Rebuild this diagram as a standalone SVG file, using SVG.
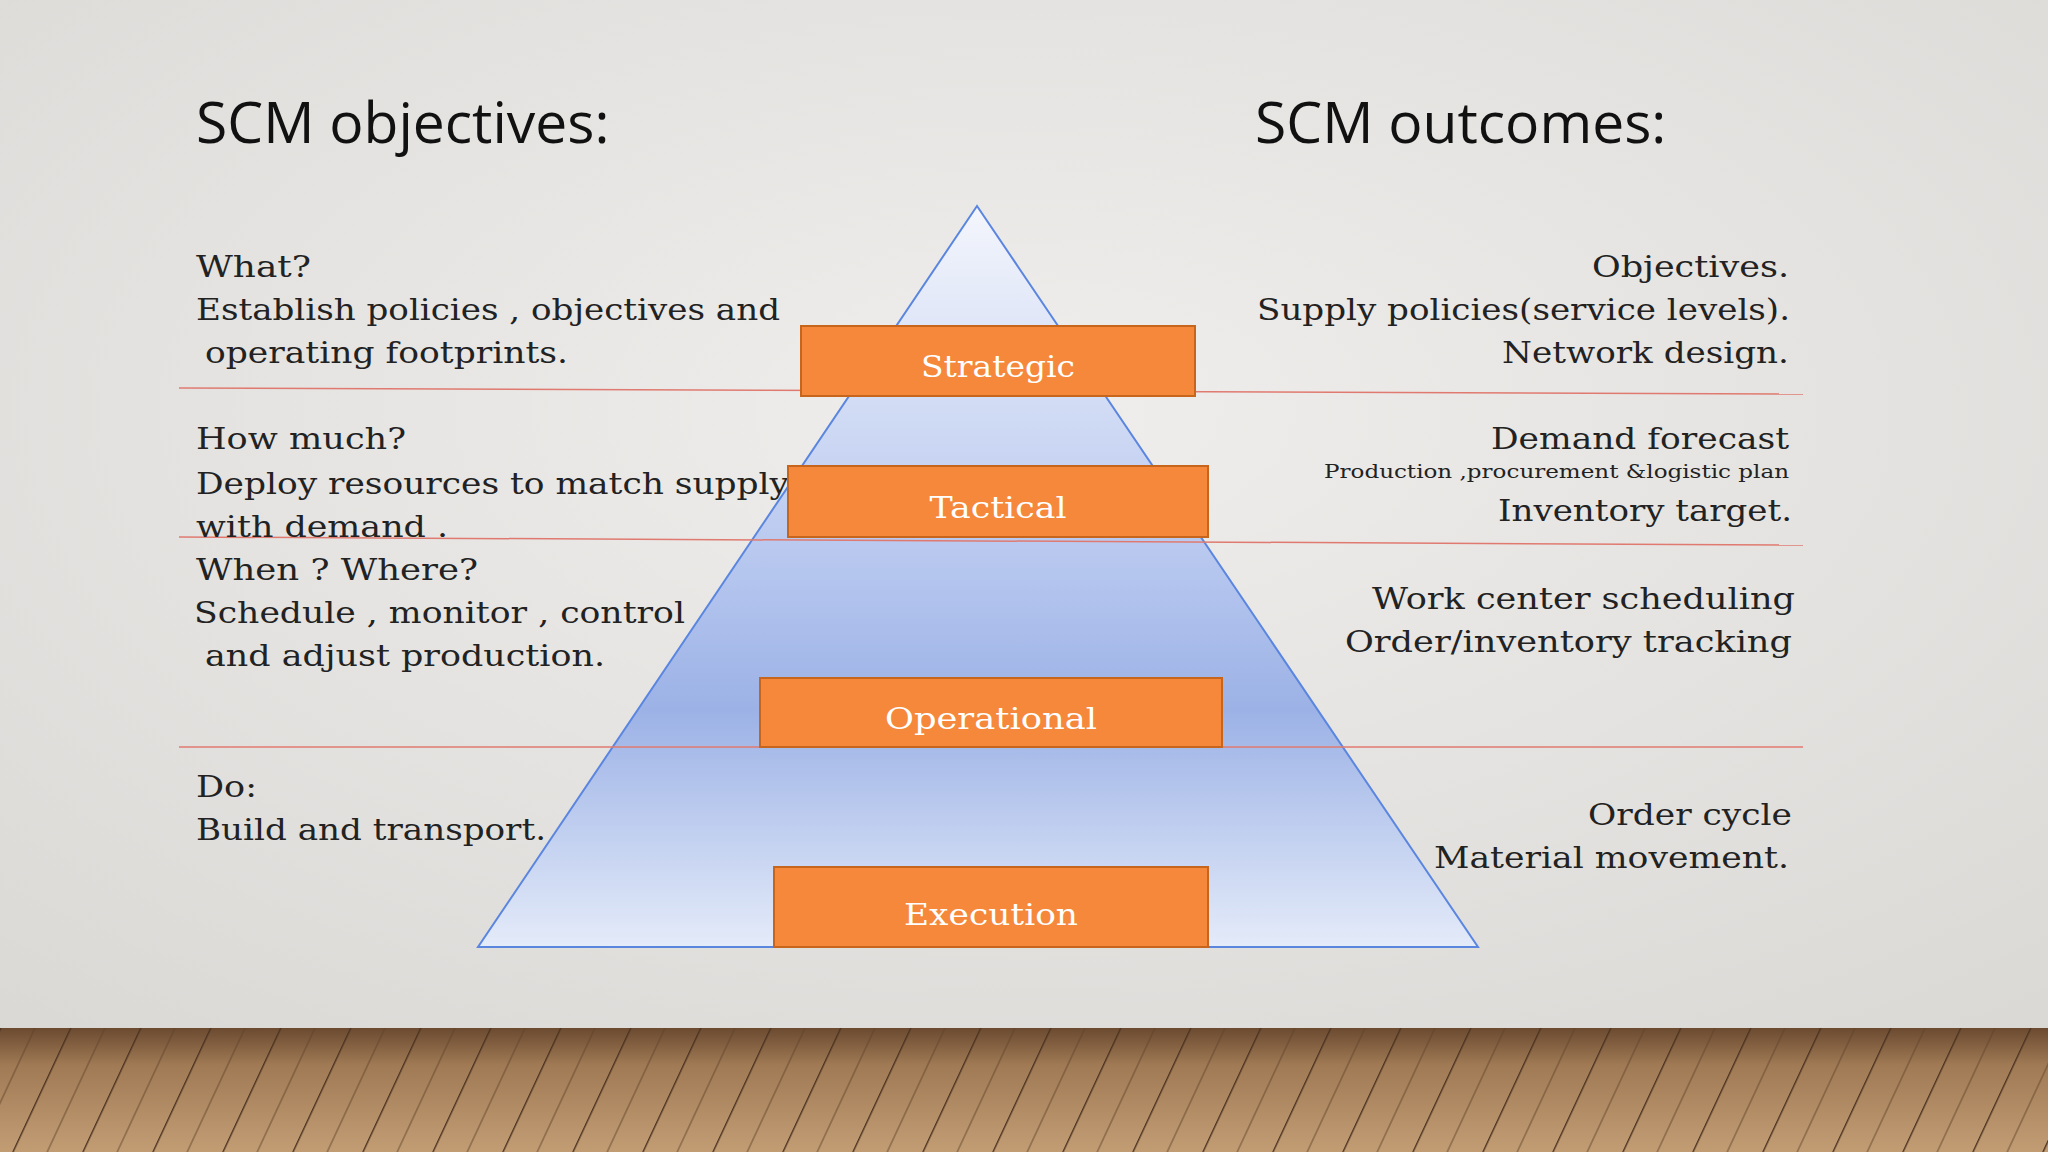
<svg xmlns="http://www.w3.org/2000/svg" width="2048" height="1152" viewBox="0 0 2048 1152">
<defs>
<radialGradient id="bg" cx="0.5" cy="0.4" r="0.8">
<stop offset="0" stop-color="#efeeec"/><stop offset="1" stop-color="#d9d8d5"/>
</radialGradient>
<linearGradient id="pyr" x1="0" y1="206" x2="0" y2="947" gradientUnits="userSpaceOnUse">
<stop offset="0" stop-color="#f4f6fc"/><stop offset="0.5" stop-color="#b4c5ee"/><stop offset="0.68" stop-color="#9cb2e6"/><stop offset="1" stop-color="#e4ebf9"/>
</linearGradient>
<linearGradient id="floor" x1="0" y1="0" x2="0" y2="1">
<stop offset="0" stop-color="#6b4a30"/><stop offset="0.3" stop-color="#a07a55"/><stop offset="1" stop-color="#c29d74"/>
</linearGradient>
<pattern id="planks" width="70" height="124" patternUnits="userSpaceOnUse" patternTransform="translate(0,1028) skewX(-25)">
<rect width="70" height="124" fill="url(#floor)"/>
<line x1="0" y1="0" x2="0" y2="124" stroke="#4a3220" stroke-width="3"/>
<line x1="35" y1="0" x2="35" y2="124" stroke="#5e4129" stroke-width="1.5" opacity="0.6"/>
</pattern>
</defs>
<style>
.t{font-family:"Open Sans","Liberation Sans",sans-serif;font-size:57px;fill:#111}
.s{font-family:"DejaVu Serif","Liberation Serif",serif;font-size:29px;fill:#222}
.r{text-anchor:end}
.b{fill:#f5883a;stroke:#c8651c;stroke-width:2}
.bt{font-family:"DejaVu Serif","Liberation Serif",serif;font-size:29px;fill:#fff;text-anchor:middle}
.ln{stroke:#e07a70;stroke-width:1.5}
</style>
<rect width="2048" height="1028" fill="url(#bg)"/>
<rect y="1028" width="2048" height="124" fill="url(#planks)"/>
<text class="t" x="196" y="143">SCM objectives:</text>
<text class="t" x="1255" y="143">SCM outcomes:</text>
<polygon points="977,206 478,947 1478,947" fill="url(#pyr)" stroke="#5b86e0" stroke-width="2"/>
<g id="connectors">
<line class="ln" x1="179" y1="388" x2="1803" y2="394"/>
<line class="ln" x1="179" y1="537" x2="1803" y2="545"/>
<line class="ln" x1="179" y1="747" x2="1803" y2="747"/>
</g>
<g id="left">
<text class="s" x="196" y="277" textLength="115" lengthAdjust="spacingAndGlyphs">What?</text>
<text class="s" x="196" y="320" textLength="584" lengthAdjust="spacingAndGlyphs">Establish policies , objectives and</text>
<text class="s" x="205" y="363" textLength="363" lengthAdjust="spacingAndGlyphs">operating footprints.</text>
<text class="s" x="196" y="449" textLength="210" lengthAdjust="spacingAndGlyphs">How much?</text>
<text class="s" x="196" y="494" textLength="593" lengthAdjust="spacingAndGlyphs">Deploy resources to match supply</text>
<text class="s" x="196" y="537" textLength="252" lengthAdjust="spacingAndGlyphs">with demand .</text>
<text class="s" x="196" y="580" textLength="282" lengthAdjust="spacingAndGlyphs">When ? Where?</text>
<text class="s" x="194" y="623" textLength="491" lengthAdjust="spacingAndGlyphs">Schedule , monitor , control</text>
<text class="s" x="205" y="666" textLength="400" lengthAdjust="spacingAndGlyphs">and adjust production.</text>
<text class="s" x="196" y="797" textLength="61" lengthAdjust="spacingAndGlyphs">Do:</text>
<text class="s" x="196" y="840" textLength="350" lengthAdjust="spacingAndGlyphs">Build and transport.</text>
</g>
<g id="right">
<text class="s r" x="1789" y="277" textLength="197" lengthAdjust="spacingAndGlyphs">Objectives.</text>
<text class="s r" x="1790" y="320" textLength="533" lengthAdjust="spacingAndGlyphs">Supply policies(service levels).</text>
<text class="s r" x="1789" y="363" textLength="287" lengthAdjust="spacingAndGlyphs">Network design.</text>
<text class="s r" x="1789" y="449" textLength="298" lengthAdjust="spacingAndGlyphs">Demand forecast</text>
<text class="s r" x="1789" y="478" style="font-size:19px" textLength="465" lengthAdjust="spacingAndGlyphs">Production ,procurement &amp;logistic plan</text>
<text class="s r" x="1792" y="521" textLength="294" lengthAdjust="spacingAndGlyphs">Inventory target.</text>
<text class="s r" x="1795" y="609" textLength="423" lengthAdjust="spacingAndGlyphs">Work center scheduling</text>
<text class="s r" x="1792" y="652" textLength="447" lengthAdjust="spacingAndGlyphs">Order/inventory tracking</text>
<text class="s r" x="1792" y="825" textLength="204" lengthAdjust="spacingAndGlyphs">Order cycle</text>
<text class="s r" x="1789" y="868" textLength="355" lengthAdjust="spacingAndGlyphs">Material movement.</text>
</g>
<g id="strategic"><rect class="b" x="801" y="326" width="394" height="70"/><text class="bt" x="998" y="377" textLength="154" lengthAdjust="spacingAndGlyphs">Strategic</text></g>
<g id="tactical"><rect class="b" x="788" y="466" width="420" height="71"/><text class="bt" x="998" y="518" textLength="137" lengthAdjust="spacingAndGlyphs">Tactical</text></g>
<g id="operational"><rect class="b" x="760" y="678" width="462" height="69"/><text class="bt" x="991" y="729" textLength="212" lengthAdjust="spacingAndGlyphs">Operational</text></g>
<g id="execution"><rect class="b" x="774" y="867" width="434" height="80"/><text class="bt" x="991" y="925" textLength="174" lengthAdjust="spacingAndGlyphs">Execution</text></g>
</svg>
